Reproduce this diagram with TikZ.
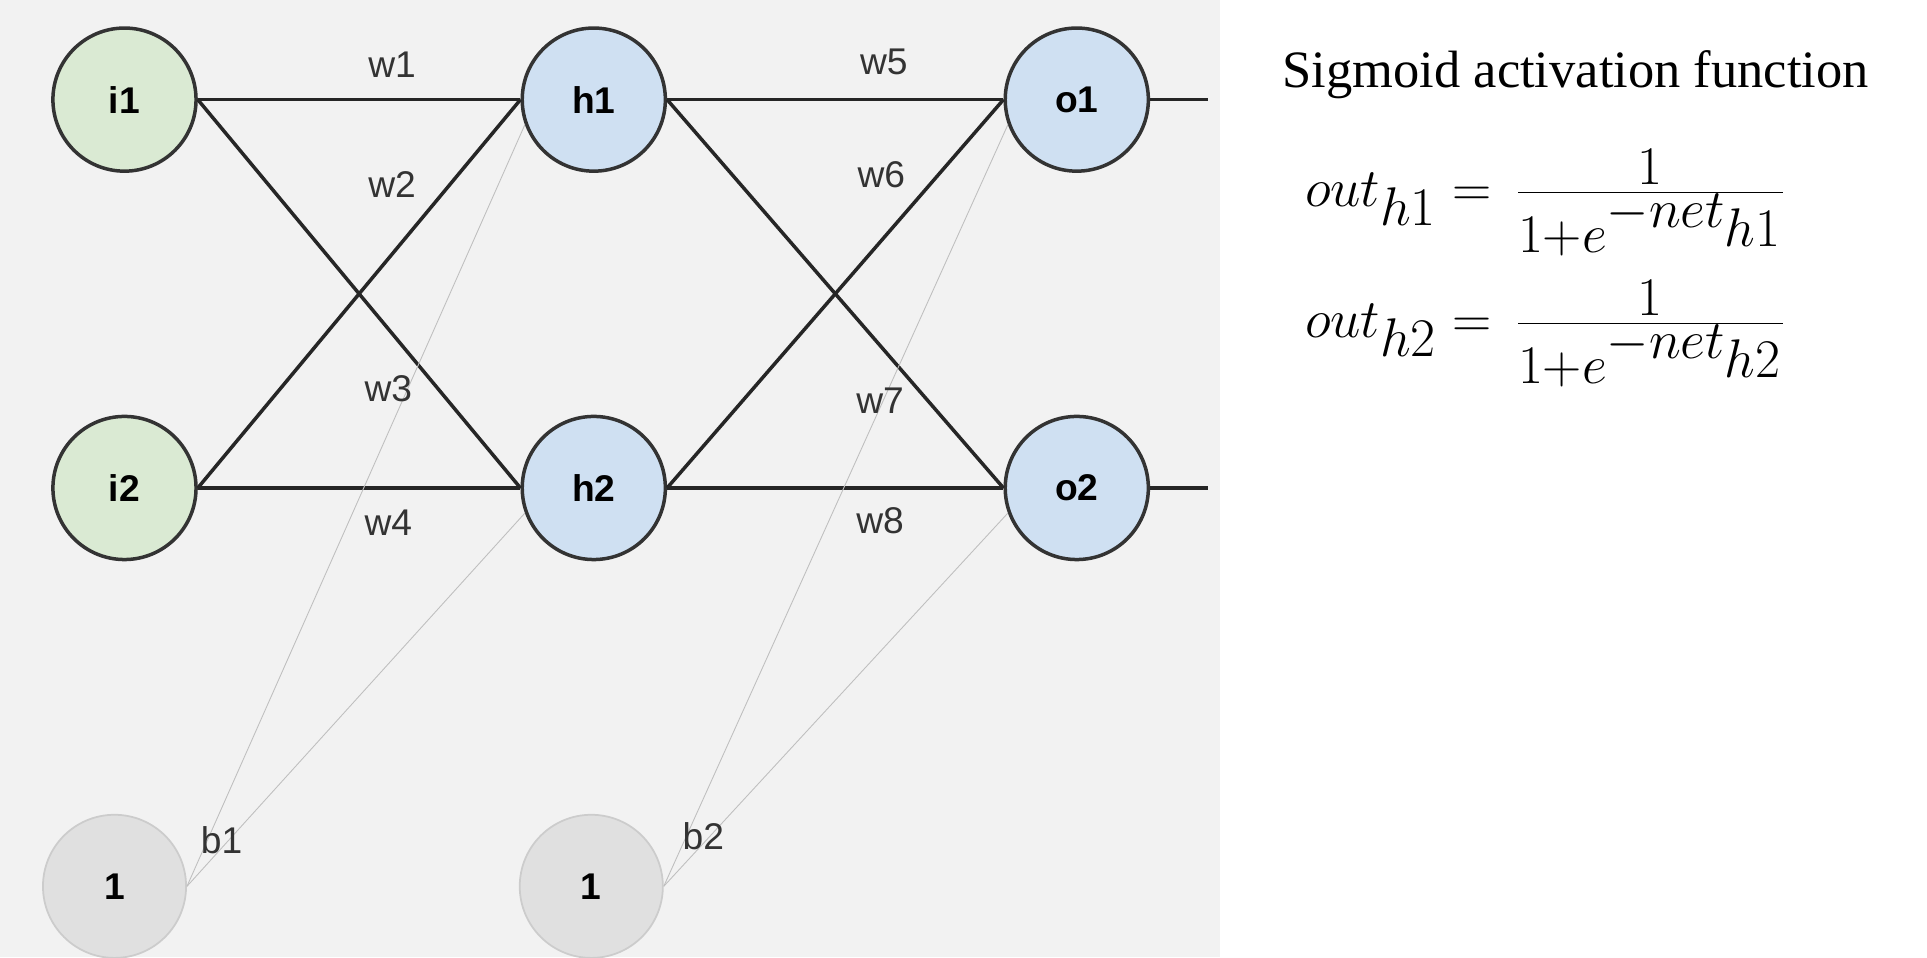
\documentclass[tikz,border=0pt]{standalone}
\usepackage{fontspec}
\setmainfont{Liberation Serif}
\newfontfamily\arialf{Liberation Sans}
\begin{document}
\begin{tikzpicture}[x=0.02cm,y=-0.02cm,
  neuron/.style={circle,draw=black!80,line width=1.6pt,minimum size=2.3cm,inner sep=0pt,font=\arialf\bfseries\fontsize{17}{20}\selectfont},
  inp/.style={neuron,fill={rgb,255:red,218;green,234;blue,211}},
  hid/.style={neuron,fill={rgb,255:red,207;green,224;blue,242}},
  bias/.style={neuron,draw=black!20,line width=0.8pt,fill={rgb,255:red,224;green,224;blue,224}},
  conn/.style={line width=1.6pt,black!85},
  bconn/.style={line width=0.4pt,black!25},
  wl/.style={font=\arialf\fontsize{17}{20}\selectfont,text=black!80}]
\useasboundingbox (0,0) rectangle (1548,769);
\fill[black!5] (0,0) rectangle (980,769);
\node[inp] (i1) at (100,80) {i1};
\node[inp] (i2) at (100,392) {i2};
\node[hid] (h1) at (477,80) {h1};
\node[hid] (h2) at (477,392) {h2};
\node[hid] (o1) at (865,80) {o1};
\node[hid] (o2) at (865,392) {o2};
\node[bias] (b1n) at (92,712) {1};
\node[bias] (b2n) at (475,712) {1};
\coordinate (e1) at (970,80);
\coordinate (e2) at (970,392);
\draw[conn] (i1.east) -- (h1.west);
\draw[conn] (i1.east) -- (h2.west);
\draw[conn] (i2.east) -- (h1.west);
\draw[conn] (i2.east) -- (h2.west);
\draw[conn] (h1.east) -- (o1.west);
\draw[conn] (h1.east) -- (o2.west);
\draw[conn] (h2.east) -- (o1.west);
\draw[conn] (h2.east) -- (o2.west);
\draw[conn] (o1.east) -- (e1);
\draw[conn] (o2.east) -- (e2);
\draw[bconn] (b1n.east) -- (h1.200);
\draw[bconn] (b1n.east) -- (h2.200);
\draw[bconn] (b2n.east) -- (o1.200);
\draw[bconn] (b2n.east) -- (o2.200);
\node[wl] (lw1) at (315,52) {w1};
\node[wl] (lw2) at (315,148) {w2};
\node[wl] (lw3) at (312,312) {w3};
\node[wl] (lw4) at (312,420) {w4};
\node[wl] (lw5) at (710,50) {w5};
\node[wl] (lw6) at (708,140) {w6};
\node[wl] (lw7) at (707,322) {w7};
\node[wl] (lw8) at (707,418) {w8};
\node[wl] (lb1) at (178,675) {b1};
\node[wl] (lb2) at (565,672) {b2};
\node[anchor=west,font=\fontsize{24}{28}\selectfont,inner sep=0pt] (title) at (1030,60) {Sigmoid activation function};
\node[anchor=west,font=\fontsize{48}{54}\selectfont,inner sep=0pt] (eq1) at (1048,163) {$out_{h1}=\,\frac{1}{1+e^{-net_{h1}}}$};
\node[anchor=west,font=\fontsize{48}{54}\selectfont,inner sep=0pt] (eq2) at (1048,268) {$out_{h2}=\,\frac{1}{1+e^{-net_{h2}}}$};
\end{tikzpicture}
\end{document}
